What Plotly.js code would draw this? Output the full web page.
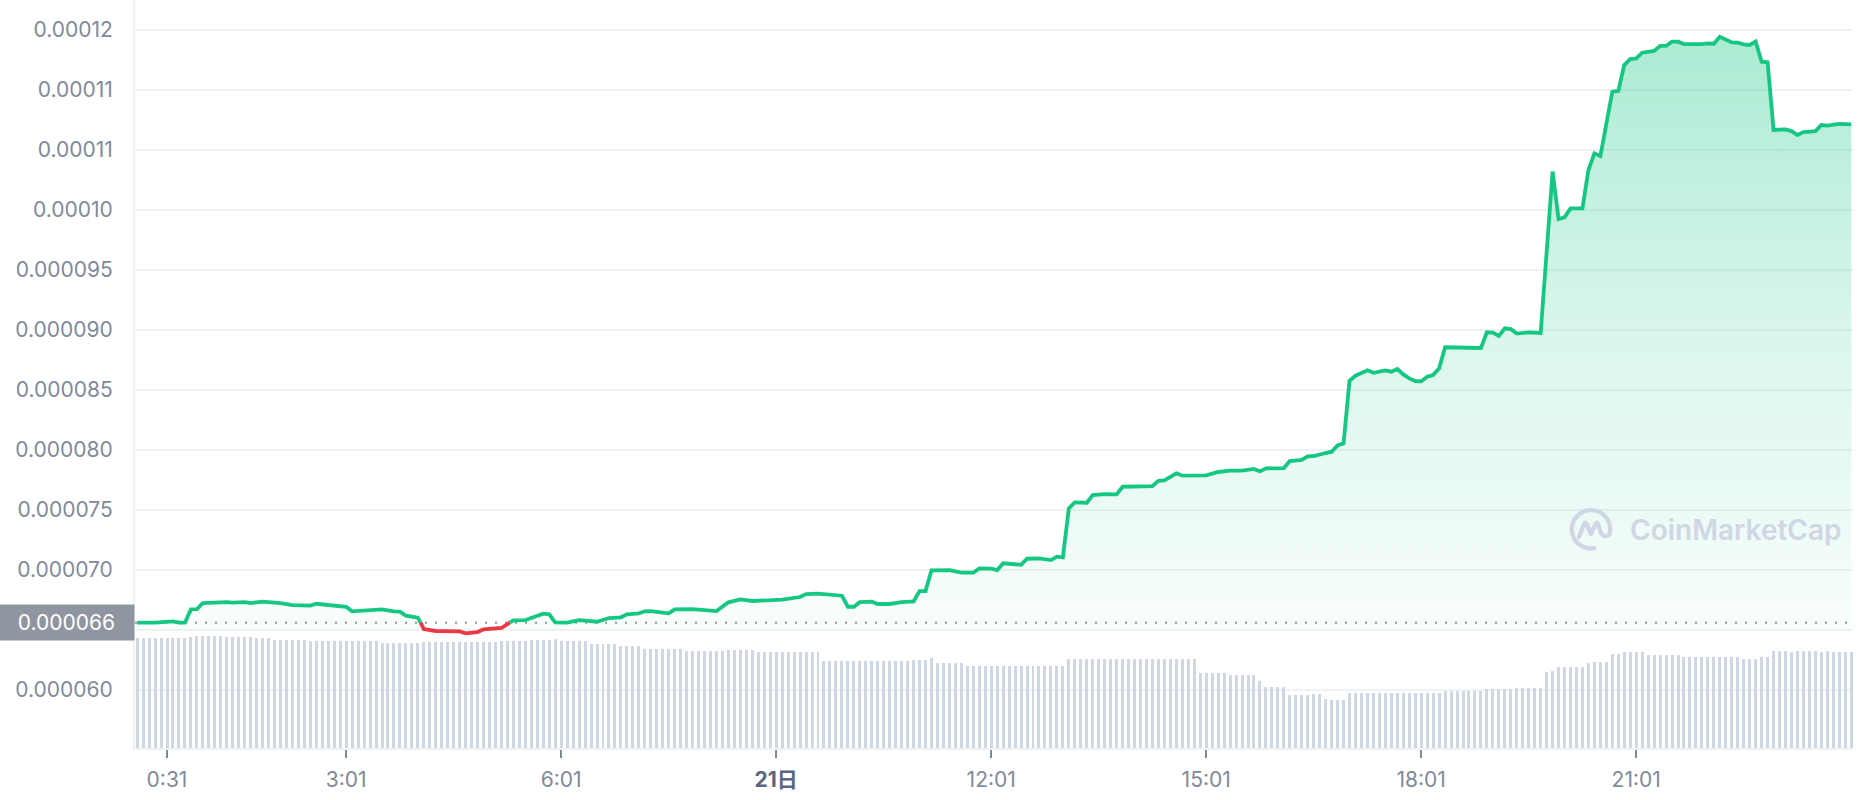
<!DOCTYPE html>
<html>
<head>
<meta charset="utf-8">
<script src="https://cdn.plot.ly/plotly-3.0.1.min.js"></script>
<style>html,body{margin:0;padding:0;background:#fff}#chart{width:1858px;height:800px}</style>
</head>
<body>
<div id="chart"></div>
<script>
// ---------- data ----------
const priceTimes = ["0:06","0:21","0:36","0:41","0:46","0:51","0:56","1:01","1:21","1:26","1:36","1:41","1:51","2:01","2:06","2:16","2:31","2:36","2:46","3:01","3:06","3:21","3:31","3:41","3:46","3:51","4:01","4:06","4:16","4:26","4:36","4:41","4:51","4:56","5:01","5:11","5:21","5:31","5:36","5:46","5:51","5:56","6:06","6:16","6:21","6:31","6:41","6:51","6:56","7:06","7:11","7:16","7:31","7:36","7:51","8:01","8:11","8:21","8:31","8:41","8:51","9:06","9:21","9:26","9:36","9:56","10:01","10:06","10:11","10:21","10:26","10:36","10:46","10:56","11:01","11:06","11:11","11:26","11:36","11:46","11:51","12:01","12:06","12:11","12:26","12:31","12:41","12:51","12:56","13:01","13:06","13:11","13:21","13:26","13:36","13:46","13:51","14:16","14:21","14:26","14:36","14:41","15:01","15:11","15:21","15:31","15:41","15:46","15:51","16:06","16:11","16:21","16:26","16:31","16:41","16:46","16:51","16:56","17:01","17:06","17:16","17:21","17:31","17:36","17:41","17:46","17:51","17:56","18:01","18:06","18:11","18:16","18:21","18:51","18:56","19:01","19:06","19:11","19:16","19:21","19:31","19:41","19:51","19:56","20:01","20:06","20:16","20:21","20:26","20:31","20:41","20:46","20:51","20:56","21:01","21:06","21:16","21:21","21:26","21:31","21:36","21:41","21:56","22:01","22:06","22:11","22:21","22:26","22:31","22:36","22:41","22:46","22:51","22:56","23:06","23:11","23:16","23:21","23:31","23:36","23:41","23:51","24:01"];
const priceValues = [0.00006561,0.00006561,0.00006572,0.00006561,0.00006561,0.00006672,0.00006675,0.00006725,0.00006733,0.00006728,0.00006733,0.00006725,0.00006736,0.00006728,0.00006725,0.00006708,0.00006703,0.00006719,0.00006708,0.00006694,0.00006656,0.00006664,0.00006672,0.00006656,0.00006653,0.00006619,0.00006603,0.00006508,0.00006492,0.00006494,0.00006489,0.00006472,0.00006483,0.00006506,0.00006508,0.00006517,0.00006581,0.00006583,0.00006603,0.00006636,0.00006631,0.00006564,0.00006562,0.00006583,0.00006578,0.00006569,0.00006600,0.00006606,0.00006631,0.00006639,0.00006656,0.00006658,0.00006639,0.00006672,0.00006675,0.00006669,0.00006658,0.00006731,0.00006756,0.00006742,0.00006744,0.00006753,0.00006775,0.00006800,0.00006803,0.00006786,0.00006694,0.00006694,0.00006733,0.00006736,0.00006717,0.00006717,0.00006733,0.00006739,0.00006825,0.00006825,0.00006997,0.00007000,0.00006978,0.00006978,0.00007014,0.00007011,0.00007000,0.00007056,0.00007044,0.00007094,0.00007097,0.00007083,0.00007111,0.00007106,0.00007514,0.00007564,0.00007561,0.00007625,0.00007633,0.00007631,0.00007694,0.00007700,0.00007744,0.00007747,0.00007806,0.00007786,0.00007789,0.00007817,0.00007828,0.00007828,0.00007842,0.00007822,0.00007847,0.00007850,0.00007908,0.00007917,0.00007947,0.00007950,0.00007975,0.00007986,0.00008039,0.00008056,0.00008578,0.00008619,0.00008664,0.00008644,0.00008664,0.00008653,0.00008675,0.00008630,0.00008597,0.00008575,0.00008572,0.00008611,0.00008625,0.00008681,0.00008856,0.00008850,0.00008981,0.00008978,0.00008950,0.00009014,0.00009008,0.00008970,0.00008981,0.00008975,0.00010320,0.00009925,0.00009939,0.00010014,0.00010014,0.00010333,0.00010472,0.00010450,0.00010986,0.00010992,0.00011208,0.00011258,0.00011264,0.00011311,0.00011325,0.00011367,0.00011367,0.00011403,0.00011403,0.00011383,0.00011383,0.00011389,0.00011386,0.00011444,0.00011397,0.00011394,0.00011381,0.00011375,0.00011403,0.00011236,0.00011231,0.00010667,0.00010672,0.00010658,0.00010625,0.00010650,0.00010658,0.00010708,0.00010703,0.00010717,0.00010714];

// 5-minute volume bars from 0:06 to 24:01 (one row per hour, relative units)
const volumeStart = "0:06";
const volumeStepMinutes = 5;
const volumeValues = [
 110,110,110,110,110,110,110,110,110,111,112,112,
 112,112,112,111,111,111,111,111,110,110,110,108,
 108,108,108,108,108,107,107,107,107,107,107,107,
 107,107,107,107,107,105.5,105.5,105.5,105.5,105.5,105.5,105.5,
 106.5,106.5,106.5,106.5,106.5,106.5,106.5,106.5,106.5,106.5,106.5,106.5,
 106.5,107,107,107,107,107,108,108,108,108,109,107.5,
 107.5,107.5,107.5,107.5,104.5,104.5,104.5,104.5,104.5,102,102,102,
 102,99.5,99.5,99.5,98.7,98.7,98.7,98.7,97,97,97,97,
 97,97,97,98,98,98,98,98,96.5,96.5,96.5,96.5,
 96.5,96.5,96.5,96.5,96.5,96.5,96.5,87.3,87.3,87.3,87.3,87.3,
 87.3,87.3,87.3,87.3,87.3,87.3,87.3,87.3,87.3,87.3,88,88,
 88,89.7,85.5,85.5,85.5,85.5,85.5,82,82,82,82,82,
 82,82,82,82,82,82,82,82,82,82,82,82,
 89,89,89,89,89.3,89.5,89.3,89.3,89.5,89.5,89.3,89.3,
 89.3,89.3,89.3,89.3,89.3,89.3,89.3,89.3,89.3,89.3,74.7,74.7,
 74.7,74.7,74.7,73,73,73,73,73,67,61.3,61.3,61.3,
 61.3,53,53,53,53,54,54,49,48,48,48.5,55.5,
 55.3,55.3,55.5,55,55,55.3,55,55,55.3,55.3,55,55,
 55,55,55,57.3,57.3,57.3,57.3,57.3,57.3,57.3,58.7,58.7,
 58.7,58.7,58.7,59.7,59.7,59.7,59.7,59.7,76,77,80.7,80.7,
 80.7,81,81,85,86,86,86,94,94,96.3,96.3,96.3,
 96.3,92.7,92.7,92.7,92.7,92.7,92.7,91,91,91,91,91,
 91,91,91,91,91,89,89,89,90.7,90.7,97,97,
 97,96.5,97,97,97,97,96.5,97,96.5,96.5,96.5,96.5
];

const openPrice = 0.00006561;
const openLabel = "0.000066";
const fillFloor = 0.000065;
const yTickValues = [0.000060,0.000065,0.000070,0.000075,0.000080,0.000085,0.000090,0.000095,0.000100,0.000105,0.000110,0.000115];
const yTickLabels = ["0.000060","","0.000070","0.000075","0.000080","0.000085","0.000090","0.000095","0.00010","0.00011","0.00011","0.00012"];
const xTickTimes = ["0:31","3:01","6:01","9:01","12:01","15:01","18:01","21:01"];
const xTickLabels = ["0:31","3:01","6:01","<span style=\"color:#58667e\"><b>21日</b></span>","12:01","15:01","18:01","21:01"];
const xRangeTimes = ["0:04:12","24:02:30"];

// ---------- helpers ----------
function toMs(t){
  const p = t.split(':').map(Number);
  return Date.UTC(2024,4,20,p[0],p[1],p[2]||0);
}
function splitByBase(xs, ys, base){
  const up={x:[],y:[]}, dn={x:[],y:[]};
  let cur = ys[0] >= base ? up : dn;
  cur.x.push(xs[0]); cur.y.push(ys[0]);
  for(let i=1;i<xs.length;i++){
    const next = ys[i] >= base ? up : dn;
    if(next !== cur){
      const f = (base - ys[i-1])/(ys[i]-ys[i-1]);
      const xc = xs[i-1] + f*(xs[i]-xs[i-1]);
      cur.x.push(xc); cur.y.push(base);
      cur.x.push(null); cur.y.push(null);
      next.x.push(xc); next.y.push(base);
      cur = next;
    }
    cur.x.push(xs[i]); cur.y.push(ys[i]);
  }
  return {up, dn};
}

const px = priceTimes.map(toMs);
const vStart = toMs(volumeStart);
const vx = volumeValues.map((_,i)=>vStart + i*volumeStepMinutes*60000);
const parts = splitByBase(px, priceValues, openPrice);

const GREEN = '#16c784', RED = '#ea3943';
const FONT = 'Inter, "Noto Sans CJK JP", sans-serif';

const traces = [
  { // volume on main (hidden) axis so it sits beneath the price layer
    type:'bar', x:vx, y:volumeValues, xaxis:'x', yaxis:'y',
    marker:{color:'#cfd6e4', line:{width:0}}, width:volumeStepMinutes*60000*0.5,
    hoverinfo:'skip', showlegend:false
  },
  { // fill floor
    type:'scatter', mode:'lines', x:[px[0], px[px.length-1]], y:[fillFloor, fillFloor],
    yaxis:'y2', line:{width:0, color:'rgba(0,0,0,0)'}, hoverinfo:'skip', showlegend:false
  },
  { // gradient area
    type:'scatter', mode:'lines', x:px, y:priceValues, yaxis:'y2',
    line:{width:0, color:'rgba(0,0,0,0)'}, fill:'tonexty',
    fillgradient:{type:'vertical', start:fillFloor, stop:0.0001145,
      colorscale:[[0,'rgba(22,199,132,0.03)'],[0.5,'rgba(22,199,132,0.16)'],[1,'rgba(22,199,132,0.36)']]},
    hoverinfo:'skip', showlegend:false
  },
  { type:'scatter', mode:'lines', x:parts.up.x, y:parts.up.y, yaxis:'y2',
    line:{color:GREEN, width:3.8}, connectgaps:false, showlegend:false },
  { type:'scatter', mode:'lines', x:parts.dn.x, y:parts.dn.y, yaxis:'y2',
    line:{color:RED, width:3.8}, connectgaps:false, showlegend:false }
];

const logoSvg = '<svg xmlns="http://www.w3.org/2000/svg" viewBox="0 0 100 100">' +
  '<path d="M89.4 56.9 A40 40 0 1 0 56.9 89.4" fill="none" stroke="#cfd6e4" stroke-width="9" stroke-linecap="round"/>' +
  '<path d="M25 66 L35 40 Q38 33 41 40 L50 60 L59 40 Q62 33 65 40 L70 56 Q75 69 88 62" fill="none" stroke="#cfd6e4" stroke-width="9" stroke-linecap="round" stroke-linejoin="round"/>' +
  '</svg>';

const layout = {
  width:1858, height:800,
  margin:{l:135, r:5, t:0, b:52, pad:0},
  paper_bgcolor:'#ffffff', plot_bgcolor:'#ffffff',
  showlegend:false, bargap:0,
  font:{family:FONT, color:'#808a9d'},
  xaxis:{
    type:'date', range:xRangeTimes.map(toMs),
    tickvals:xTickTimes.map(toMs), ticktext:xTickLabels,
    showgrid:false, zeroline:false,
    showline:true, linecolor:'#eff2f5', linewidth:2,
    ticks:'outside', ticklen:8, tickwidth:2, tickcolor:'#808a9d',
    tickfont:{family:FONT, size:21, color:'#808a9d'}, ticklabelstandoff:4
  },
  yaxis:{ range:[0,748], visible:false, fixedrange:true },
  yaxis2:{
    overlaying:'y', side:'left', range:[0.00005517, 0.0001175],
    tickvals:yTickValues, ticktext:yTickLabels,
    showgrid:true, gridcolor:'#eff2f5', gridwidth:1.5, zeroline:false,
    showline:true, linecolor:'#eff2f5', linewidth:2,
    ticks:'', tickfont:{family:FONT, size:21, color:'#808a9d'}, ticklabelstandoff:16
  },
  shapes:[{
    type:'line', xref:'paper', x0:0, x1:1, yref:'y2', y0:openPrice, y1:openPrice,
    line:{color:'#8f96a2', width:2, dash:'2px,8px'}, layer:'below'
  }],
  annotations:[
    { xref:'paper', x:0, xanchor:'right', yref:'y2', y:openPrice, yanchor:'middle',
      text:openLabel, showarrow:false, bgcolor:'#8f96a2', borderpad:0,
      width:135, height:35, align:'center',
      font:{family:FONT, size:21, color:'#ffffff'} },
    { xref:'paper', x:0.869, xanchor:'left', yref:'paper', y:0.2914, yanchor:'middle',
      text:'CoinMarketCap', showarrow:false,
      font:{family:FONT, size:28, color:'#cfd6e4', weight:600} }
  ],
  images:[{
    source:'data:image/svg+xml;utf8,' + encodeURIComponent(logoSvg),
    xref:'paper', yref:'paper', x:0.8335, y:0.3245, sizex:0.028, sizey:0.064,
    xanchor:'left', yanchor:'top', layer:'above'
  }]
};

Plotly.newPlot('chart', traces, layout, {displayModeBar:false, staticPlot:true});
</script>
</body>
</html>
